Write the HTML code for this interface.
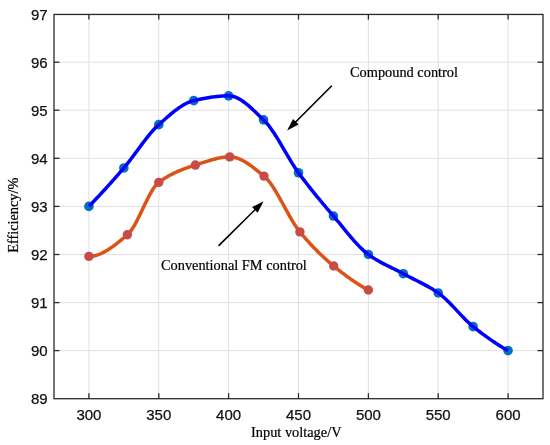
<!DOCTYPE html>
<html><head><meta charset="utf-8"><style>
html,body{margin:0;padding:0;background:#fff;}
body{width:550px;height:445px;overflow:hidden;}
svg{display:block;}
</style></head><body>
<svg width="550" height="445" viewBox="0 0 550 445">
<rect x="0" y="0" width="550" height="445" fill="#fff"/>
<g stroke="#e0e0e0" stroke-width="1" fill="none">
<line x1="88.9" y1="14.1" x2="88.9" y2="398.7"/>
<line x1="158.8" y1="14.1" x2="158.8" y2="398.7"/>
<line x1="228.6" y1="14.1" x2="228.6" y2="398.7"/>
<line x1="298.5" y1="14.1" x2="298.5" y2="398.7"/>
<line x1="368.4" y1="14.1" x2="368.4" y2="398.7"/>
<line x1="438.2" y1="14.1" x2="438.2" y2="398.7"/>
<line x1="508.1" y1="14.1" x2="508.1" y2="398.7"/>
<line x1="54.0" y1="350.6" x2="543.0" y2="350.6"/>
<line x1="54.0" y1="302.6" x2="543.0" y2="302.6"/>
<line x1="54.0" y1="254.5" x2="543.0" y2="254.5"/>
<line x1="54.0" y1="206.4" x2="543.0" y2="206.4"/>
<line x1="54.0" y1="158.3" x2="543.0" y2="158.3"/>
<line x1="54.0" y1="110.2" x2="543.0" y2="110.2"/>
<line x1="54.0" y1="62.2" x2="543.0" y2="62.2"/>
</g>
<g stroke="#2a2a2a" stroke-width="1.3" fill="none">
<line x1="88.9" y1="398.7" x2="88.9" y2="393.2"/>
<line x1="88.9" y1="14.1" x2="88.9" y2="19.6"/>
<line x1="158.8" y1="398.7" x2="158.8" y2="393.2"/>
<line x1="158.8" y1="14.1" x2="158.8" y2="19.6"/>
<line x1="228.6" y1="398.7" x2="228.6" y2="393.2"/>
<line x1="228.6" y1="14.1" x2="228.6" y2="19.6"/>
<line x1="298.5" y1="398.7" x2="298.5" y2="393.2"/>
<line x1="298.5" y1="14.1" x2="298.5" y2="19.6"/>
<line x1="368.4" y1="398.7" x2="368.4" y2="393.2"/>
<line x1="368.4" y1="14.1" x2="368.4" y2="19.6"/>
<line x1="438.2" y1="398.7" x2="438.2" y2="393.2"/>
<line x1="438.2" y1="14.1" x2="438.2" y2="19.6"/>
<line x1="508.1" y1="398.7" x2="508.1" y2="393.2"/>
<line x1="508.1" y1="14.1" x2="508.1" y2="19.6"/>
<line x1="54.0" y1="350.6" x2="59.5" y2="350.6"/>
<line x1="543.0" y1="350.6" x2="537.5" y2="350.6"/>
<line x1="54.0" y1="302.6" x2="59.5" y2="302.6"/>
<line x1="543.0" y1="302.6" x2="537.5" y2="302.6"/>
<line x1="54.0" y1="254.5" x2="59.5" y2="254.5"/>
<line x1="543.0" y1="254.5" x2="537.5" y2="254.5"/>
<line x1="54.0" y1="206.4" x2="59.5" y2="206.4"/>
<line x1="543.0" y1="206.4" x2="537.5" y2="206.4"/>
<line x1="54.0" y1="158.3" x2="59.5" y2="158.3"/>
<line x1="543.0" y1="158.3" x2="537.5" y2="158.3"/>
<line x1="54.0" y1="110.2" x2="59.5" y2="110.2"/>
<line x1="543.0" y1="110.2" x2="537.5" y2="110.2"/>
<line x1="54.0" y1="62.2" x2="59.5" y2="62.2"/>
<line x1="543.0" y1="62.2" x2="537.5" y2="62.2"/>
</g>
<rect x="54.0" y="14.45" width="489.0" height="384.24999999999994" fill="none" stroke="#2a2a2a" stroke-width="1.3"/>
<g font-family="'Liberation Sans', Arial, sans-serif" font-size="15" fill="#111" stroke="#111" stroke-width="0.25">
<text x="88.9" y="420.0" text-anchor="middle">300</text>
<text x="158.8" y="420.0" text-anchor="middle">350</text>
<text x="228.6" y="420.0" text-anchor="middle">400</text>
<text x="298.5" y="420.0" text-anchor="middle">450</text>
<text x="368.4" y="420.0" text-anchor="middle">500</text>
<text x="438.2" y="420.0" text-anchor="middle">550</text>
<text x="508.1" y="420.0" text-anchor="middle">600</text>
<text x="47.6" y="404.4" text-anchor="end">89</text>
<text x="47.6" y="356.3" text-anchor="end">90</text>
<text x="47.6" y="308.2" text-anchor="end">91</text>
<text x="47.6" y="260.2" text-anchor="end">92</text>
<text x="47.6" y="212.1" text-anchor="end">93</text>
<text x="47.6" y="164.0" text-anchor="end">94</text>
<text x="47.6" y="116.0" text-anchor="end">95</text>
<text x="47.6" y="67.9" text-anchor="end">96</text>
<text x="47.6" y="19.8" text-anchor="end">97</text>
</g>
<g clip-path="none">
<circle cx="88.93" cy="206.40" r="4.80" fill="#0072BD"/>
<circle cx="123.86" cy="167.94" r="4.80" fill="#0072BD"/>
<circle cx="158.79" cy="124.67" r="4.80" fill="#0072BD"/>
<circle cx="193.71" cy="100.63" r="4.80" fill="#0072BD"/>
<circle cx="228.64" cy="95.83" r="4.80" fill="#0072BD"/>
<circle cx="263.57" cy="119.87" r="4.80" fill="#0072BD"/>
<circle cx="298.50" cy="172.75" r="4.80" fill="#0072BD"/>
<circle cx="333.43" cy="216.02" r="4.80" fill="#0072BD"/>
<circle cx="368.36" cy="254.47" r="4.80" fill="#0072BD"/>
<circle cx="403.29" cy="273.71" r="4.80" fill="#0072BD"/>
<circle cx="438.21" cy="292.93" r="4.80" fill="#0072BD"/>
<circle cx="473.14" cy="326.59" r="4.80" fill="#0072BD"/>
<circle cx="508.07" cy="350.62" r="4.80" fill="#0072BD"/>
<path d="M88.93,206.40 L90.33,204.95 L91.73,203.49 L93.13,202.02 L94.54,200.55 L95.94,199.06 L97.34,197.57 L98.74,196.07 L100.14,194.57 L101.54,193.05 L102.95,191.53 L104.35,190.00 L105.75,188.46 L107.15,186.92 L108.55,185.36 L109.96,183.80 L111.36,182.23 L112.76,180.66 L114.16,179.08 L115.56,177.49 L116.96,175.89 L118.37,174.29 L119.77,172.68 L121.17,171.06 L122.57,169.44 L123.97,167.80 L125.38,166.14 L126.78,164.42 L128.18,162.66 L129.58,160.86 L130.98,159.03 L132.38,157.17 L133.79,155.30 L135.19,153.40 L136.59,151.50 L137.99,149.59 L139.39,147.68 L140.80,145.79 L142.20,143.90 L143.60,142.04 L145.00,140.20 L146.40,138.39 L147.80,136.62 L149.21,134.89 L150.61,133.21 L152.01,131.58 L153.41,130.02 L154.81,128.52 L156.22,127.09 L157.62,125.74 L159.02,124.47 L160.42,123.22 L161.82,121.97 L163.22,120.73 L164.63,119.48 L166.03,118.25 L167.43,117.02 L168.83,115.81 L170.23,114.62 L171.64,113.45 L173.04,112.30 L174.44,111.19 L175.84,110.10 L177.24,109.05 L178.64,108.04 L180.05,107.08 L181.45,106.16 L182.85,105.29 L184.25,104.47 L185.65,103.71 L187.06,103.01 L188.46,102.38 L189.86,101.81 L191.26,101.32 L192.66,100.90 L194.06,100.55 L195.47,100.24 L196.87,99.93 L198.27,99.62 L199.67,99.32 L201.07,99.03 L202.48,98.75 L203.88,98.48 L205.28,98.22 L206.68,97.96 L208.08,97.72 L209.48,97.49 L210.89,97.27 L212.29,97.07 L213.69,96.88 L215.09,96.70 L216.49,96.54 L217.90,96.39 L219.30,96.26 L220.70,96.14 L222.10,96.04 L223.50,95.96 L224.90,95.90 L226.31,95.86 L227.71,95.83 L229.11,95.83 L230.51,95.94 L231.91,96.16 L233.32,96.49 L234.72,96.93 L236.12,97.47 L237.52,98.10 L238.92,98.83 L240.32,99.63 L241.73,100.52 L243.13,101.47 L244.53,102.49 L245.93,103.58 L247.33,104.71 L248.74,105.89 L250.14,107.12 L251.54,108.38 L252.94,109.67 L254.34,110.99 L255.74,112.33 L257.15,113.68 L258.55,115.03 L259.95,116.39 L261.35,117.74 L262.75,119.09 L264.16,120.43 L265.56,121.88 L266.96,123.47 L268.36,125.18 L269.76,127.00 L271.16,128.92 L272.57,130.93 L273.97,133.02 L275.37,135.19 L276.77,137.42 L278.17,139.70 L279.58,142.03 L280.98,144.39 L282.38,146.77 L283.78,149.17 L285.18,151.57 L286.58,153.97 L287.99,156.35 L289.39,158.71 L290.79,161.03 L292.19,163.31 L293.59,165.53 L295.00,167.69 L296.40,169.78 L297.80,171.78 L299.20,173.70 L300.60,175.59 L302.00,177.46 L303.41,179.32 L304.81,181.15 L306.21,182.97 L307.61,184.78 L309.01,186.57 L310.42,188.34 L311.82,190.10 L313.22,191.85 L314.62,193.59 L316.02,195.31 L317.42,197.02 L318.83,198.73 L320.23,200.42 L321.63,202.10 L323.03,203.78 L324.43,205.45 L325.84,207.11 L327.24,208.76 L328.64,210.41 L330.04,212.06 L331.44,213.70 L332.84,215.33 L334.25,216.97 L335.65,218.63 L337.05,220.31 L338.45,222.01 L339.85,223.72 L341.26,225.44 L342.66,227.16 L344.06,228.88 L345.46,230.60 L346.86,232.30 L348.26,234.00 L349.67,235.68 L351.07,237.34 L352.47,238.97 L353.87,240.57 L355.27,242.15 L356.68,243.68 L358.08,245.17 L359.48,246.62 L360.88,248.02 L362.28,249.36 L363.68,250.65 L365.09,251.88 L366.49,253.04 L367.89,254.13 L369.29,255.15 L370.69,256.13 L372.10,257.08 L373.50,257.99 L374.90,258.87 L376.30,259.72 L377.70,260.54 L379.10,261.34 L380.51,262.11 L381.91,262.87 L383.31,263.60 L384.71,264.33 L386.11,265.04 L387.52,265.74 L388.92,266.43 L390.32,267.12 L391.72,267.81 L393.12,268.49 L394.52,269.18 L395.93,269.88 L397.33,270.58 L398.73,271.29 L400.13,272.02 L401.53,272.76 L402.94,273.51 L404.34,274.28 L405.74,275.03 L407.14,275.77 L408.54,276.50 L409.94,277.22 L411.35,277.93 L412.75,278.63 L414.15,279.34 L415.55,280.04 L416.95,280.74 L418.36,281.45 L419.76,282.16 L421.16,282.87 L422.56,283.60 L423.96,284.34 L425.36,285.09 L426.77,285.86 L428.17,286.64 L429.57,287.44 L430.97,288.26 L432.37,289.11 L433.78,289.98 L435.18,290.88 L436.58,291.81 L437.98,292.77 L439.38,293.78 L440.78,294.86 L442.19,296.01 L443.59,297.21 L444.99,298.48 L446.39,299.79 L447.79,301.14 L449.20,302.54 L450.60,303.96 L452.00,305.42 L453.40,306.89 L454.80,308.38 L456.20,309.88 L457.61,311.38 L459.01,312.88 L460.41,314.37 L461.81,315.85 L463.21,317.31 L464.62,318.74 L466.02,320.14 L467.42,321.51 L468.82,322.83 L470.22,324.11 L471.62,325.33 L473.03,326.49 L474.43,327.61 L475.83,328.73 L477.23,329.83 L478.63,330.91 L480.04,331.99 L481.44,333.06 L482.84,334.11 L484.24,335.15 L485.64,336.18 L487.04,337.19 L488.45,338.19 L489.85,339.18 L491.25,340.15 L492.65,341.11 L494.05,342.06 L495.46,342.99 L496.86,343.90 L498.26,344.80 L499.66,345.68 L501.06,346.55 L502.46,347.40 L503.87,348.23 L505.27,349.05 L506.67,349.84 L508.07,350.62" fill="none" stroke="#0000ff" stroke-width="3.5" stroke-linejoin="round" stroke-linecap="butt"/>
<path d="M88.93,256.40 L89.86,256.38 L90.80,256.32 L91.73,256.23 L92.67,256.10 L93.60,255.94 L94.54,255.75 L95.47,255.52 L96.40,255.26 L97.34,254.97 L98.27,254.65 L99.21,254.30 L100.14,253.93 L101.08,253.53 L102.01,253.10 L102.95,252.64 L103.88,252.16 L104.82,251.66 L105.75,251.13 L106.68,250.58 L107.62,250.02 L108.55,249.43 L109.49,248.82 L110.42,248.20 L111.36,247.55 L112.29,246.89 L113.23,246.22 L114.16,245.53 L115.10,244.83 L116.03,244.11 L116.96,243.38 L117.90,242.65 L118.83,241.90 L119.77,241.14 L120.70,240.37 L121.64,239.60 L122.57,238.82 L123.51,238.03 L124.44,237.24 L125.38,236.45 L126.31,235.65 L127.24,234.85 L128.18,234.00 L129.11,233.01 L130.05,231.90 L130.98,230.67 L131.92,229.33 L132.85,227.90 L133.79,226.37 L134.72,224.76 L135.66,223.08 L136.59,221.33 L137.52,219.53 L138.46,217.68 L139.39,215.79 L140.33,213.86 L141.26,211.92 L142.20,209.96 L143.13,208.00 L144.07,206.04 L145.00,204.10 L145.94,202.17 L146.87,200.27 L147.80,198.42 L148.74,196.60 L149.67,194.85 L150.61,193.15 L151.54,191.53 L152.48,189.99 L153.41,188.54 L154.35,187.19 L155.28,185.94 L156.22,184.81 L157.15,183.80 L158.08,182.93 L159.02,182.19 L159.95,181.50 L160.89,180.84 L161.82,180.19 L162.76,179.56 L163.69,178.94 L164.63,178.35 L165.56,177.76 L166.50,177.20 L167.43,176.65 L168.36,176.11 L169.30,175.59 L170.23,175.08 L171.17,174.58 L172.10,174.10 L173.04,173.63 L173.97,173.18 L174.91,172.73 L175.84,172.30 L176.78,171.87 L177.71,171.46 L178.64,171.06 L179.58,170.66 L180.51,170.28 L181.45,169.90 L182.38,169.54 L183.32,169.18 L184.25,168.83 L185.19,168.48 L186.12,168.14 L187.06,167.81 L187.99,167.49 L188.92,167.16 L189.86,166.85 L190.79,166.54 L191.73,166.23 L192.66,165.93 L193.60,165.63 L194.53,165.33 L195.47,165.03 L196.40,164.73 L197.34,164.43 L198.27,164.13 L199.20,163.83 L200.14,163.52 L201.07,163.21 L202.01,162.90 L202.94,162.60 L203.88,162.29 L204.81,161.98 L205.75,161.68 L206.68,161.38 L207.62,161.09 L208.55,160.80 L209.48,160.51 L210.42,160.23 L211.35,159.96 L212.29,159.69 L213.22,159.44 L214.16,159.19 L215.09,158.95 L216.03,158.72 L216.96,158.50 L217.90,158.29 L218.83,158.09 L219.76,157.90 L220.70,157.73 L221.63,157.57 L222.57,157.43 L223.50,157.30 L224.44,157.19 L225.37,157.09 L226.31,157.02 L227.24,156.95 L228.18,156.91 L229.11,156.89 L230.04,156.88 L230.98,156.92 L231.91,157.00 L232.85,157.12 L233.78,157.27 L234.72,157.47 L235.65,157.71 L236.59,157.98 L237.52,158.28 L238.46,158.62 L239.39,158.99 L240.32,159.39 L241.26,159.83 L242.19,160.29 L243.13,160.77 L244.06,161.29 L245.00,161.83 L245.93,162.39 L246.87,162.97 L247.80,163.58 L248.74,164.21 L249.67,164.85 L250.60,165.51 L251.54,166.19 L252.47,166.88 L253.41,167.58 L254.34,168.30 L255.28,169.03 L256.21,169.77 L257.15,170.51 L258.08,171.27 L259.02,172.02 L259.95,172.79 L260.88,173.56 L261.82,174.32 L262.75,175.09 L263.69,175.86 L264.62,176.65 L265.56,177.52 L266.49,178.47 L267.43,179.49 L268.36,180.59 L269.30,181.76 L270.23,182.99 L271.16,184.28 L272.10,185.62 L273.03,187.02 L273.97,188.47 L274.90,189.96 L275.84,191.49 L276.77,193.06 L277.71,194.66 L278.64,196.29 L279.58,197.94 L280.51,199.61 L281.44,201.30 L282.38,203.00 L283.31,204.71 L284.25,206.42 L285.18,208.13 L286.12,209.83 L287.05,211.53 L287.99,213.22 L288.92,214.89 L289.86,216.54 L290.79,218.16 L291.72,219.76 L292.66,221.32 L293.59,222.85 L294.53,224.33 L295.46,225.77 L296.40,227.17 L297.33,228.51 L298.27,229.79 L299.20,231.01 L300.14,232.17 L301.07,233.30 L302.00,234.42 L302.94,235.53 L303.87,236.63 L304.81,237.71 L305.74,238.78 L306.68,239.84 L307.61,240.89 L308.55,241.93 L309.48,242.96 L310.42,243.97 L311.35,244.98 L312.28,245.97 L313.22,246.96 L314.15,247.93 L315.09,248.89 L316.02,249.84 L316.96,250.78 L317.89,251.71 L318.83,252.64 L319.76,253.55 L320.70,254.45 L321.63,255.34 L322.56,256.22 L323.50,257.09 L324.43,257.95 L325.37,258.80 L326.30,259.65 L327.24,260.48 L328.17,261.31 L329.11,262.12 L330.04,262.93 L330.98,263.73 L331.91,264.52 L332.84,265.30 L333.78,266.07 L334.71,266.84 L335.65,267.60 L336.58,268.35 L337.52,269.11 L338.45,269.85 L339.39,270.59 L340.32,271.32 L341.26,272.05 L342.19,272.77 L343.12,273.49 L344.06,274.20 L344.99,274.90 L345.93,275.60 L346.86,276.29 L347.80,276.97 L348.73,277.65 L349.67,278.32 L350.60,278.98 L351.54,279.64 L352.47,280.28 L353.40,280.92 L354.34,281.56 L355.27,282.18 L356.21,282.80 L357.14,283.41 L358.08,284.01 L359.01,284.60 L359.95,285.19 L360.88,285.76 L361.82,286.33 L362.75,286.89 L363.68,287.44 L364.62,287.98 L365.55,288.51 L366.49,289.03 L367.42,289.55 L368.36,290.05" fill="none" stroke="#DB5316" stroke-width="3.5" stroke-linejoin="round" stroke-linecap="butt"/>
<circle cx="88.93" cy="256.40" r="4.70" fill="#C84B48"/>
<circle cx="127.35" cy="234.76" r="4.70" fill="#C84B48"/>
<circle cx="158.79" cy="182.36" r="4.70" fill="#C84B48"/>
<circle cx="195.39" cy="165.06" r="4.70" fill="#C84B48"/>
<circle cx="229.76" cy="156.88" r="4.70" fill="#C84B48"/>
<circle cx="263.99" cy="176.11" r="4.70" fill="#C84B48"/>
<circle cx="299.90" cy="231.88" r="4.70" fill="#C84B48"/>
<circle cx="333.71" cy="266.01" r="4.70" fill="#C84B48"/>
<circle cx="368.36" cy="290.05" r="4.70" fill="#C84B48"/>
</g>
<line x1="331.80" y1="85.70" x2="294.38" y2="123.21" stroke="#000" stroke-width="1.6"/><polygon points="287.10,130.50 293.03,119.04 298.55,124.55" fill="#000"/>
<line x1="218.50" y1="245.90" x2="256.28" y2="208.45" stroke="#000" stroke-width="1.6"/><polygon points="263.60,201.20 257.61,212.63 252.12,207.09" fill="#000"/>
<g font-family="'Liberation Serif', 'Times New Roman', serif" font-size="14.35" fill="#000" stroke="#000" stroke-width="0.2">
<text x="350.0" y="76.7">Compound control</text>
<text x="161.0" y="270.3">Conventional FM control</text>
<text x="296.3" y="436.6" text-anchor="middle">Input voltage/V</text>
<text transform="translate(18.4,215.2) rotate(-90)" text-anchor="middle" font-size="14.3">Efficiency/%</text>
</g>
</svg>
</body></html>
